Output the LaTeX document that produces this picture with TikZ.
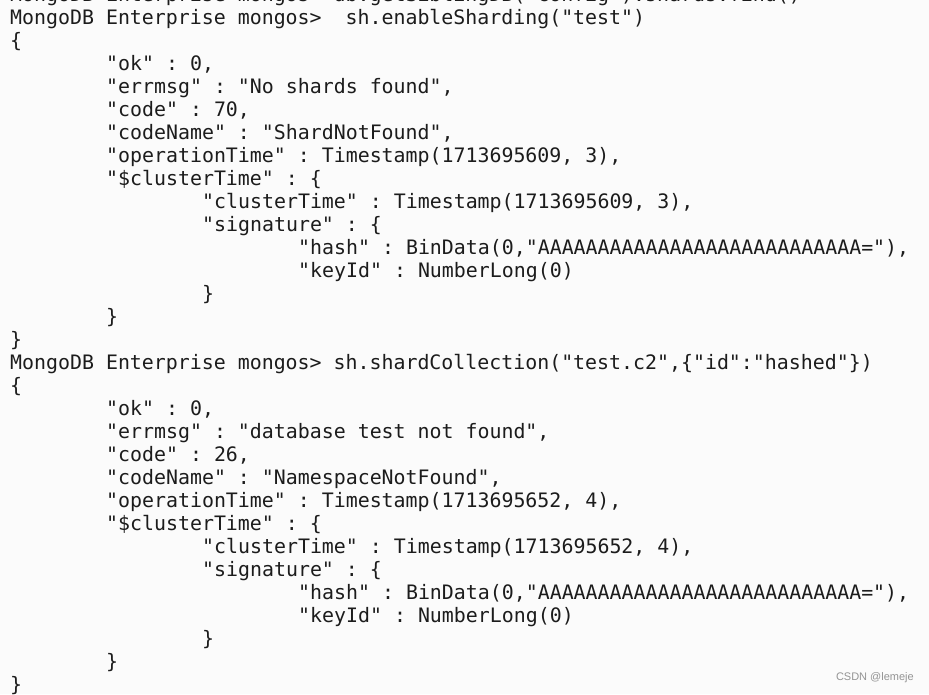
\documentclass[tikz,border=0pt]{standalone}
\usepackage{fontspec}
\newfontfamily\termfont{DejaVu Sans Mono}
\newfontfamily\markfont{Liberation Sans}
\definecolor{termbg}{HTML}{FBFBFB}
\definecolor{termfg}{HTML}{1C1C1C}
\newcommand\termstep{23}
\newcommand\termchar{12}
\newcommand\startterm{\pgfmathparse{1}\let\y\pgfmathresult}
% one console line: indent in characters, then the text
\newcommand\termline[3]{
  \node[termtext] (#1) at (10 + \termchar * #2, -\y) {#3} ;
  \pgfmathparse{\y + \termstep}\global\let\y\pgfmathresult
}
\tikzset{termtext/.style={anchor=base west, inner sep=0pt, text=termfg, font=\termfont\fontsize{19.9}{23}\selectfont\frenchspacing}}
\begin{document}
\begin{tikzpicture}[x=1pt, y=1pt]
    \fill[termbg] (0, 0) rectangle (929, -694) ;
    \useasboundingbox (0, 0) rectangle (929, -694) ;
    \clip (0, 0) rectangle (929, -694) ;
    \startterm
    \termline{cut}{0}{MongoDB Enterprise mongos> db.getSiblingDB("config").shards.find()}
    \termline{enable}{0}{MongoDB Enterprise mongos>\ \ sh.enableSharding("test")}
    \termline{openA}{0}{\{}
    \termline{okA}{8}{"ok" : 0,}
    \termline{msgA}{8}{"errmsg" : "No shards found",}
    \termline{codeA}{8}{"code" : 70,}
    \termline{nameA}{8}{"codeName" : "ShardNotFound",}
    \termline{opA}{8}{"operationTime" : Timestamp(1713695609, 3),}
    \termline{clusterA}{8}{"\$clusterTime" : \{}
    \termline{timeA}{16}{"clusterTime" : Timestamp(1713695609, 3),}
    \termline{sigA}{16}{"signature" : \{}
    \termline{hashA}{24}{"hash" : BinData(0,"AAAAAAAAAAAAAAAAAAAAAAAAAAA="),}
    \termline{keyA}{24}{"keyId" : NumberLong(0)}
    \termline{sigendA}{16}{\}}
    \termline{clusterendA}{8}{\}}
    \termline{closeA}{0}{\}}
    \termline{shard}{0}{MongoDB Enterprise mongos> sh.shardCollection("test.c2",\{"id":"hashed"\})}
    \termline{openB}{0}{\{}
    \termline{okB}{8}{"ok" : 0,}
    \termline{msgB}{8}{"errmsg" : "database test not found",}
    \termline{codeB}{8}{"code" : 26,}
    \termline{nameB}{8}{"codeName" : "NamespaceNotFound",}
    \termline{opB}{8}{"operationTime" : Timestamp(1713695652, 4),}
    \termline{clusterB}{8}{"\$clusterTime" : \{}
    \termline{timeB}{16}{"clusterTime" : Timestamp(1713695652, 4),}
    \termline{sigB}{16}{"signature" : \{}
    \termline{hashB}{24}{"hash" : BinData(0,"AAAAAAAAAAAAAAAAAAAAAAAAAAA="),}
    \termline{keyB}{24}{"keyId" : NumberLong(0)}
    \termline{sigendB}{16}{\}}
    \termline{clusterendB}{8}{\}}
    \termline{closeB}{0}{\}}
    \node[anchor=east, inner sep=0pt, text=black!42, font=\markfont\fontsize{11}{13}\selectfont] (mark) at (914, -677.5) {CSDN @lemeje} ;
\end{tikzpicture}
\end{document}
